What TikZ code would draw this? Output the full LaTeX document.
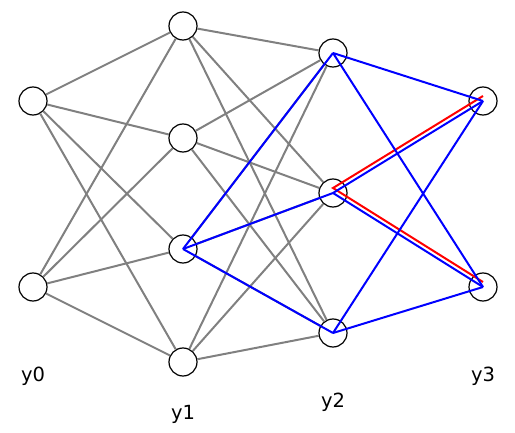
\documentclass[tikz,border=0pt]{standalone}
\usepackage{fontspec}
\setmainfont{DejaVu Sans}
\begin{document}
\begin{tikzpicture}[x=1pt,y=-1pt,
  neuron/.style={circle,draw=black,fill=white,line width=1.2pt,minimum size=28pt,inner sep=0pt},
  grayedge/.style={draw={rgb,255:red,128;green,128;blue,128},line width=2pt},
  blueedge/.style={draw=blue,line width=2pt},
  rededge/.style={draw=red,line width=2pt},
  lab/.style={font=\fontsize{19.5}{19.5}\selectfont,anchor=base,inner sep=0pt}]
\useasboundingbox (0,0) rectangle (515,433);
% nodes
\node[neuron] (a1) at (33,101) {};
\node[neuron] (a2) at (33,287) {};
\node[neuron] (b1) at (183,26) {};
\node[neuron] (b2) at (183,138) {};
\node[neuron] (b3) at (183,249) {};
\node[neuron] (b4) at (183,362) {};
\node[neuron] (c1) at (333,53) {};
\node[neuron] (c2) at (333,193) {};
\node[neuron] (c3) at (333,333) {};
\node[neuron] (d1) at (483,101) {};
\node[neuron] (d2) at (483,287) {};
% gray edges
\foreach \s in {a1,a2} \foreach \t in {b1,b2,b3,b4} \draw[grayedge] (\s) -- (\t);
\foreach \s in {b1,b2,b3,b4} \foreach \t in {c1,c2,c3} \draw[grayedge] (\s) -- (\t);
% red path
\draw[rededge] ([yshift=5pt]d1.center) -- ([yshift=5pt]c2.center) -- ([yshift=5pt]d2.center);
% blue edges
\foreach \t in {c1,c2,c3} \draw[blueedge] (b3.center) -- (\t.center);
\foreach \s in {c1,c2,c3} \foreach \t in {d1,d2} \draw[blueedge] (\s.center) -- (\t.center);
% labels
\node[lab] (l0) at (33,381.5) {y0};
\node[lab] (l1) at (183,419) {y1};
\node[lab] (l2) at (333,407) {y2};
\node[lab] (l3) at (483,381.5) {y3};
\end{tikzpicture}
\end{document}
